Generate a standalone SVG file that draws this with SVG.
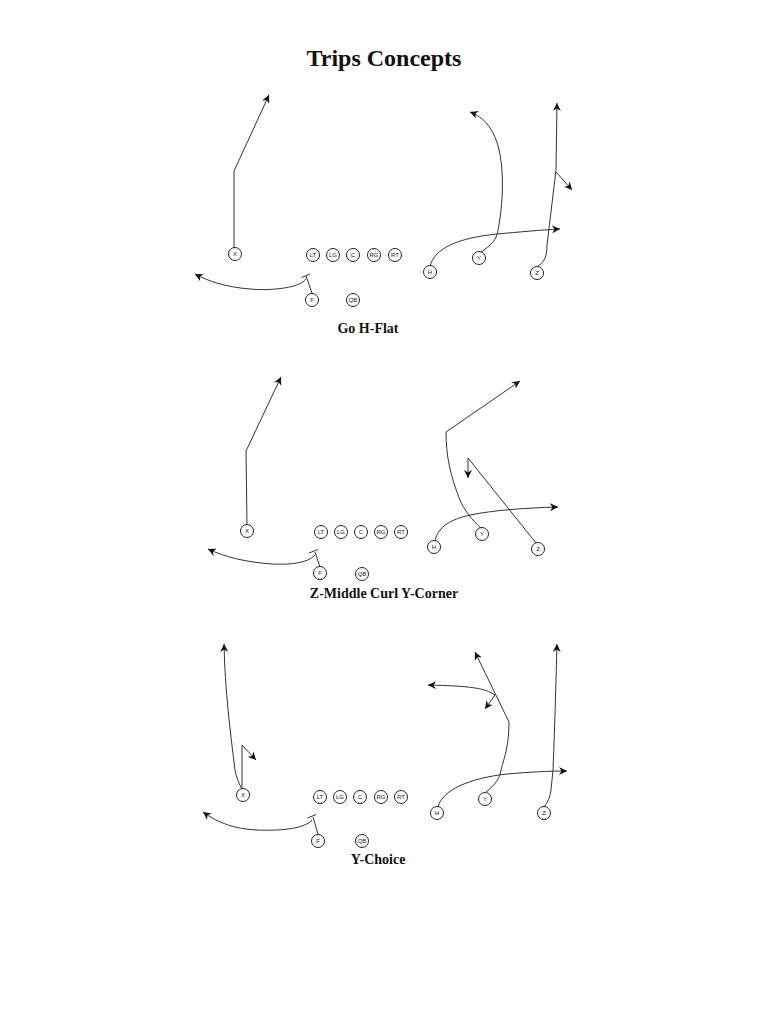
<svg xmlns="http://www.w3.org/2000/svg" width="768" height="1024" viewBox="0 0 768 1024">
<defs>
<marker id="ah" markerUnits="userSpaceOnUse" markerWidth="9" markerHeight="8" refX="8" refY="4" orient="auto">
<path d="M0,0 L8,4 L0,8 L2.5,4 Z" fill="#111"/>
</marker>
</defs>
<style>
.r{fill:none;stroke:#333;stroke-width:1;marker-end:url(#ah)}
.l{fill:none;stroke:#333;stroke-width:1}
.n circle{fill:#fff;stroke:#222;stroke-width:1}
.n text{font-family:"Liberation Sans",Arial,sans-serif;font-size:6px;text-anchor:middle;fill:#222}
.t{font-family:"Liberation Serif","Times New Roman",serif;font-weight:bold;text-anchor:middle;fill:#111}
</style>
<rect width="768" height="1024" fill="#fff"/>
<text class="t" x="384" y="66" font-size="24">Trips Concepts</text>

<!-- Diagram 1 -->
<g id="d1-routes">
<path class="r" d="M234,248 L234,171 L269,95"/>
<path class="r" d="M430,266 C435,248 458,238 497,234 C520,232 540,230 560,229"/>
<path class="r" d="M481,252 C490,246 497,240 498,230 C504,200 506,150 490,128 C485,120 478,115 470,112"/>
<path class="r" d="M538,266 C545,262 547,255 547,245 L556,170 L557,103"/>
<path class="r" d="M556,172 L572,190"/>
<path class="l" d="M312,293 L306,276"/>
<path class="l" d="M301.5,277.5 L310,274"/>
<path class="r" d="M306,279 C300,288 270,291 250,289 C225,287 208,281 195,274"/>
</g>
<g id="d1-X" class="n"><circle cx="235" cy="254" r="6.5"/><text x="235" y="256">X</text></g>
<g id="d1-LT" class="n"><circle cx="313" cy="255" r="6.5"/><text x="313" y="257">LT</text></g>
<g id="d1-LG" class="n"><circle cx="333" cy="255" r="6.5"/><text x="333" y="257">LG</text></g>
<g id="d1-C" class="n"><circle cx="353" cy="255" r="6.5"/><text x="353" y="257">C</text></g>
<g id="d1-RG" class="n"><circle cx="374" cy="255" r="6.5"/><text x="374" y="257">RG</text></g>
<g id="d1-RT" class="n"><circle cx="395" cy="255" r="6.5"/><text x="395" y="257">RT</text></g>
<g id="d1-H" class="n"><circle cx="430" cy="272" r="6.5"/><text x="430" y="274">H</text></g>
<g id="d1-Y" class="n"><circle cx="479" cy="258" r="6.5"/><text x="479" y="260">Y</text></g>
<g id="d1-Z" class="n"><circle cx="537" cy="273" r="6.5"/><text x="537" y="275">Z</text></g>
<g id="d1-F" class="n"><circle cx="312" cy="300" r="6.5"/><text x="312" y="302">F</text></g>
<g id="d1-QB" class="n"><circle cx="353" cy="300" r="6.5"/><text x="353" y="302">QB</text></g>
<text class="t" x="368" y="333" font-size="14">Go H-Flat</text>

<!-- Diagram 2 -->
<g id="d2-routes">
<path class="r" d="M247,525 L246,451 L281,377"/>
<path class="r" d="M481,528 C472,520 464,510 460,500 C450,475 446,455 446,432 L520,381"/>
<path class="r" d="M435,541 C438,526 452,519 470,515 C495,510 525,508 558,507"/>
<path class="r" d="M536,543 L468,458 L468,478"/>
<path class="l" d="M320,567 L315,552"/>
<path class="l" d="M309,553 L318,549.5"/>
<path class="r" d="M315,555 C308,563 290,565 272,564 C245,562 225,557 208,549"/>
</g>
<g id="d2-X" class="n"><circle cx="247" cy="531" r="6.5"/><text x="247" y="533">X</text></g>
<g id="d2-LT" class="n"><circle cx="321" cy="532" r="6.5"/><text x="321" y="534">LT</text></g>
<g id="d2-LG" class="n"><circle cx="341" cy="532" r="6.5"/><text x="341" y="534">LG</text></g>
<g id="d2-C" class="n"><circle cx="361" cy="532" r="6.5"/><text x="361" y="534">C</text></g>
<g id="d2-RG" class="n"><circle cx="381" cy="532" r="6.5"/><text x="381" y="534">RG</text></g>
<g id="d2-RT" class="n"><circle cx="401" cy="532" r="6.5"/><text x="401" y="534">RT</text></g>
<g id="d2-H" class="n"><circle cx="434" cy="547" r="6.5"/><text x="434" y="549">H</text></g>
<g id="d2-Y" class="n"><circle cx="482" cy="534" r="6.5"/><text x="482" y="536">Y</text></g>
<g id="d2-Z" class="n"><circle cx="538" cy="549" r="6.5"/><text x="538" y="551">Z</text></g>
<g id="d2-F" class="n"><circle cx="320" cy="573" r="6.5"/><text x="320" y="575">F</text></g>
<g id="d2-QB" class="n"><circle cx="362" cy="574" r="6.5"/><text x="362" y="576">QB</text></g>
<text class="t" x="384" y="598" font-size="14">Z-Middle Curl Y-Corner</text>

<!-- Diagram 3 -->
<g id="d3-routes">
<path class="r" d="M242,789 C238,782 236,776 235,770 C230,730 225,690 224,644"/>
<path class="r" d="M242,789 L242,745 L256,760"/>
<path class="r" d="M486,792 C495,785 500,778 501,770 C505,755 509,745 509,722 L475,652"/>
<path class="r" d="M495,695 C485,688 470,686 428,685"/>
<path class="r" d="M495,695 L485,709"/>
<path class="r" d="M438,807 C442,790 470,778 507,774 C530,772 548,771 567,771"/>
<path class="r" d="M544,807 C548,802 550,797 551,790 L553,770 C555,720 556,680 557,644"/>
<path class="l" d="M318,834 L313,817"/>
<path class="l" d="M307.5,818 L316,814.5"/>
<path class="r" d="M312,820 C305,828 285,831 257,830 C235,829 218,823 203,812"/>
</g>
<g id="d3-X" class="n"><circle cx="243" cy="795" r="6.5"/><text x="243" y="797">X</text></g>
<g id="d3-LT" class="n"><circle cx="320" cy="797" r="6.5"/><text x="320" y="799">LT</text></g>
<g id="d3-LG" class="n"><circle cx="340" cy="797" r="6.5"/><text x="340" y="799">LG</text></g>
<g id="d3-C" class="n"><circle cx="360" cy="797" r="6.5"/><text x="360" y="799">C</text></g>
<g id="d3-RG" class="n"><circle cx="381" cy="797" r="6.5"/><text x="381" y="799">RG</text></g>
<g id="d3-RT" class="n"><circle cx="401" cy="797" r="6.5"/><text x="401" y="799">RT</text></g>
<g id="d3-H" class="n"><circle cx="437" cy="813" r="6.5"/><text x="437" y="815">H</text></g>
<g id="d3-Y" class="n"><circle cx="485" cy="799" r="6.5"/><text x="485" y="801">Y</text></g>
<g id="d3-Z" class="n"><circle cx="544" cy="813" r="6.5"/><text x="544" y="815">Z</text></g>
<g id="d3-F" class="n"><circle cx="318" cy="841" r="6.5"/><text x="318" y="843">F</text></g>
<g id="d3-QB" class="n"><circle cx="362" cy="841" r="6.5"/><text x="362" y="843">QB</text></g>
<text class="t" x="378" y="864" font-size="14">Y-Choice</text>
</svg>
